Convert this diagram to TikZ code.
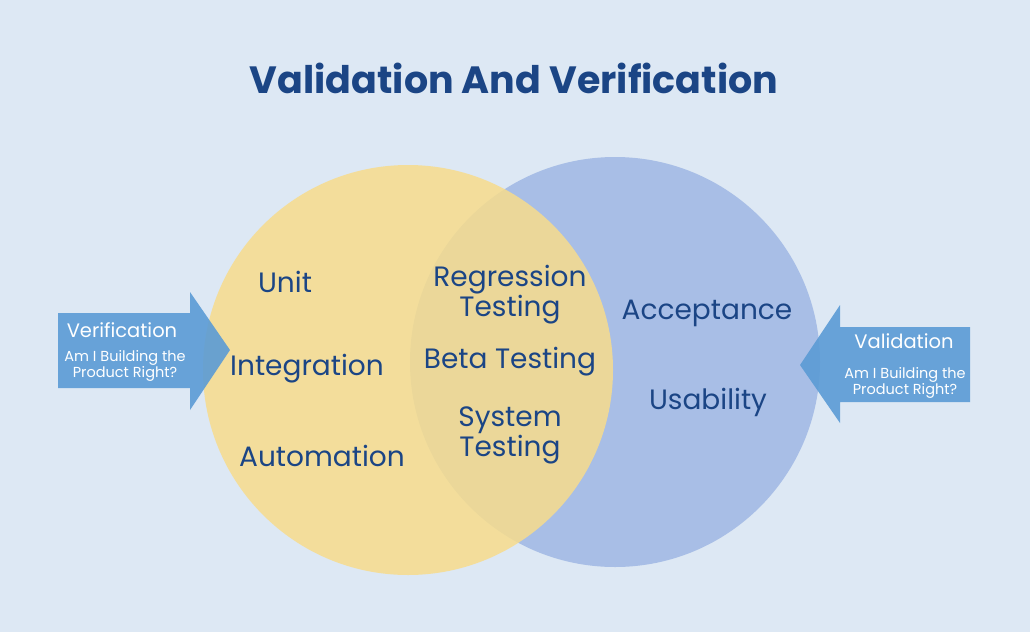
\documentclass[tikz,border=0pt]{standalone}
\usepackage{fontspec}
\setmainfont{Poppins}
\usetikzlibrary{positioning}
\definecolor{bgblue}{HTML}{DDE8F4}
\definecolor{darkblue}{HTML}{1B4585}
\definecolor{circyellow}{HTML}{F7DC8C}
\definecolor{circblue}{HTML}{A8BEE6}
\definecolor{arrowblue}{HTML}{5B9BD5}

\begin{document}
\begin{tikzpicture}[x=1pt,y=-1pt,
    term/.style={text=darkblue, font=\fontsize{28}{30}\selectfont, align=center},
    arrowtitle/.style={text=white, font=\fontsize{19.5}{22}\selectfont},
    arrownote/.style={text=white, font=\fontsize{14.5}{16}\selectfont, align=center}]
    \fill[bgblue] (0,0) rectangle (1030,632);
    \useasboundingbox (0,0) rectangle (1030,632);

    \node[text=darkblue, font=\fontsize{38}{42}\selectfont\bfseries] (title) at (514,78) {Validation And Verification};

    % circles
    \fill[circblue] (615,362) circle (205);
    \fill[circyellow, opacity=0.85] (408,370) circle (205);

    % arrows
    \fill[arrowblue, opacity=0.9] (58,313) -- (190,313) -- (190,292) -- (230,350)
        -- (190,410) -- (190,388) -- (58,388) -- cycle;
    \fill[arrowblue, opacity=0.9] (970,327) -- (840,327) -- (840,305) -- (800,365)
        -- (840,423) -- (840,402) -- (970,402) -- cycle;
    \node[arrowtitle] (verif) at (122,330) {Verification};
    \node[arrownote] (verifnote) at (125,366) {Am I Building the\\Product Right?};
    \node[arrowtitle] (valid) at (904,341) {Validation};
    \node[arrownote] (validnote) at (905,383) {Am I Building the\\Product Right?};

    % terms
    \node[term] (unit) at (285,282) {Unit};
    \node[term] (integ) at (307,369) {Integration};
    \node[term] (auto) at (322,456) {Automation};
    \node[term] (regr) at (510,295) {Regression\\Testing};
    \node[term] (beta) at (510,362) {Beta Testing};
    \node[term] (sys) at (510,435) {System\\Testing};
    \node[term] (accept) at (707,313) {Acceptance};
    \node[term] (usab) at (708,402) {Usability};
\end{tikzpicture}
\end{document}
